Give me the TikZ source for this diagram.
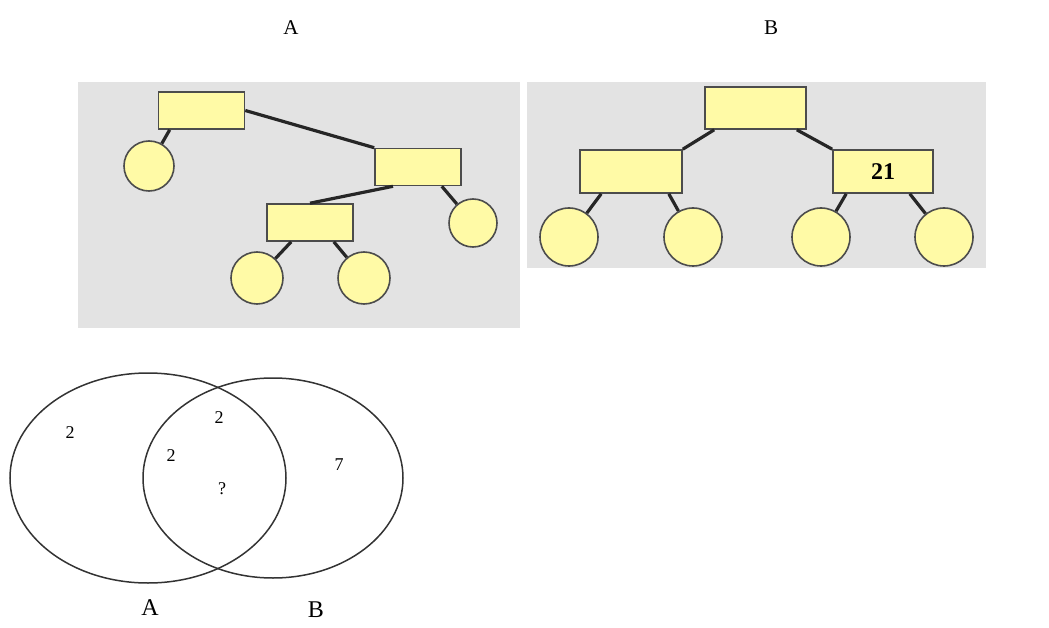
\documentclass[tikz,border=0pt]{standalone}
\usepackage{fontspec}
\setmainfont{Liberation Serif}
\begin{document}
\begin{tikzpicture}[x=1pt,y=-1pt,
  bx/.style={draw=black!70,fill=yellow!35!white,line width=1.6pt,minimum width=86pt,minimum height=37pt,inner sep=0pt},
  cc/.style={draw=black!70,fill=yellow!35!white,line width=1.6pt,circle,inner sep=0pt},
  ln/.style={line width=3.2pt,black!85},
  lab/.style={font=\fontsize{21}{21}\selectfont}]
\useasboundingbox (0,0) rectangle (1049,628);
\fill[black!11] (78,82) rectangle (520,328);
\fill[black!11] (527,82) rectangle (986,268);
\node[lab] (tA) at (291,28) {A};
\node[lab] (tB) at (771,28) {B};
% tree A
\node[bx] (a1) at (201.5,110.5) {};
\node[bx] (a2) at (418,167) {};
\node[bx] (a3) at (310,222.5) {};
\node[cc,minimum size=50pt] (c1) at (149,166) {};
\node[cc,minimum size=48pt] (c2) at (473,223) {};
\node[cc,minimum size=52pt] (c3) at (257,278) {};
\node[cc,minimum size=52pt] (c4) at (364,278) {};
\draw[ln] (a1.south west)++(12,0) -- (c1);
\draw[ln] (a1.east) -- (a2.north west);
\draw[ln] (a2.south)++(-25,0) -- (a3.north)++(10,0);
\draw[ln] (a2.south east)++(-20,0) -- (c2);
\draw[ln] (a3.south west)++(25,0) -- (c3);
\draw[ln] (a3.south east)++(-20,0) -- (c4);
% tree B
\node[bx,minimum width=101pt,minimum height=42pt] (b1) at (755.5,108) {};
\node[bx,minimum width=102pt,minimum height=43pt] (b2) at (631,171.5) {};
\node[bx,minimum width=100pt,minimum height=43pt] (b3) at (883,171.5) {\fontsize{24}{24}\selectfont\bfseries 21};
\node[cc,minimum size=58pt] (d1) at (569,237) {};
\node[cc,minimum size=58pt] (d2) at (693,237) {};
\node[cc,minimum size=58pt] (d3) at (821,237) {};
\node[cc,minimum size=58pt] (d4) at (944,237) {};
\draw[ln] (b1.south west)++(10,0) -- (b2.north east)++(-10,0);
\draw[ln] (b1.south east)++(-10,0) -- (b3.north west)++(10,0);
\draw[ln] (b2.south west)++(22,0) -- (d1);
\draw[ln] (b2.south east)++(-14,0) -- (d2);
\draw[ln] (b3.south west)++(14,0) -- (d3);
\draw[ln] (b3.south east)++(-24,0) -- (d4);
% venn
\draw[line width=1.5pt,black!80] (148,478) ellipse [x radius=138, y radius=105];
\draw[line width=1.5pt,black!80] (273,478) ellipse [x radius=130, y radius=100];
\node[font=\fontsize{18}{18}\selectfont] (n1) at (70,433) {2};
\node[font=\fontsize{18}{18}\selectfont] (n2) at (219,418) {2};
\node[font=\fontsize{18}{18}\selectfont] (n3) at (171,456) {2};
\node[font=\fontsize{18}{18}\selectfont] (n4) at (222,489) {?};
\node[font=\fontsize{18}{18}\selectfont] (n5) at (339,465) {7};
\node[font=\fontsize{24}{24}\selectfont] (vA) at (150,608) {A};
\node[font=\fontsize{24}{24}\selectfont] (vB) at (316,610) {B};
\end{tikzpicture}
\end{document}
